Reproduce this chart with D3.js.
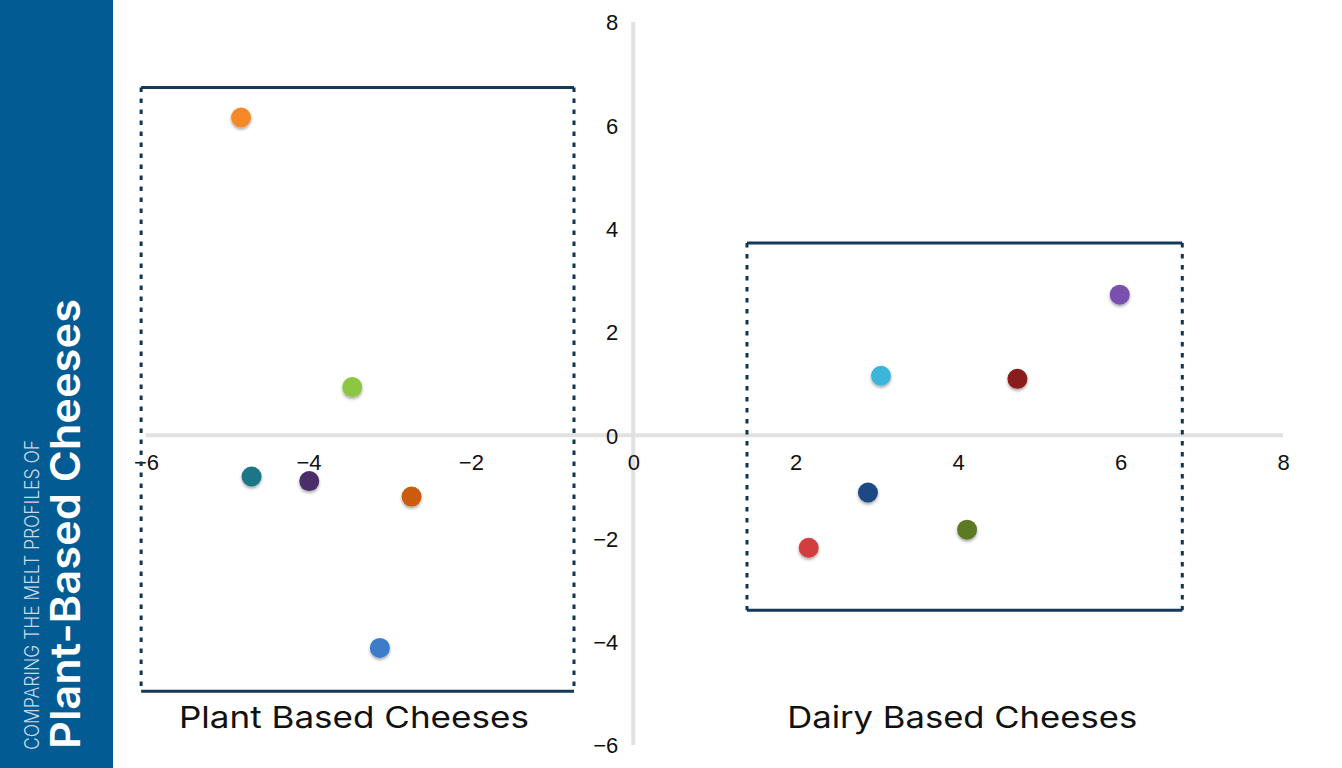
<!DOCTYPE html>
<html>
<head>
<meta charset="utf-8">
<script src="https://cdn.jsdelivr.net/npm/d3@7"></script>
<style>
  html, body { margin: 0; padding: 0; background: #fff; }
  svg { display: block; }
</style>
</head>
<body>
<svg id="chart"></svg>
<script>
// cheese positions
const plantCheeses = [
  { x: -4.83, y: 6.15, color: '#f5892a' },
  { x: -3.46, y: 0.93, color: '#8dc63f' },
  { x: -4.70, y: -0.80, color: '#1b7688' },
  { x: -3.99, y: -0.89, color: '#4a2f6a' },
  { x: -2.73, y: -1.19, color: '#cc5b0c' },
  { x: -3.12, y: -4.12, color: '#3c7bc8' }
];

const dairyCheeses = [
  { x: 3.05, y: 1.15, color: '#3bb5da' },
  { x: 4.73, y: 1.09, color: '#8b1b1c' },
  { x: 5.99, y: 2.72, color: '#7a4fae' },
  { x: 2.89, y: -1.11, color: '#1b4a84' },
  { x: 4.11, y: -1.83, color: '#5b7a28' },
  { x: 2.16, y: -2.18, color: '#d43d3d' }
];

// group boxes in data units
const groupBoxes = [
  { name: 'Plant Based Cheeses', x0: -6.06, x1: -0.73, y0: -4.96, y1: 6.73, labelX: -3.44 },
  { name: 'Dairy Based Cheeses', x0: 1.40, x1: 6.76, y0: -3.39, y1: 3.72, labelX: 4.05 }
];

const xTicks = [-6, -4, -2, 0, 2, 4, 6, 8];
const yTicks = [-6, -4, -2, 0, 2, 4, 6, 8];

const width = 1342;
const height = 768;

const svg = d3.select('#chart')
  .attr('width', width)
  .attr('height', height)
  .attr('viewBox', [0, 0, width, height]);

const defs = svg.append('defs');
const shadow = defs.append('filter')
  .attr('id', 'dotShadow')
  .attr('x', '-50%').attr('y', '-50%')
  .attr('width', '200%').attr('height', '200%');
shadow.append('feDropShadow')
  .attr('dx', 0).attr('dy', 2)
  .attr('stdDeviation', 1.6)
  .attr('flood-color', '#000')
  .attr('flood-opacity', 0.35);

const x = d3.scaleLinear().domain([-6, 8]).range([146, 1283]);
const y = d3.scaleLinear().domain([-6, 8]).range([745, 22]);

// axis lines first, labels on top
svg.append('line')
  .attr('x1', x(-6)).attr('x2', x(8))
  .attr('y1', y(0)).attr('y2', y(0))
  .attr('stroke', '#e1e1e1')
  .attr('stroke-width', 4);

svg.append('line')
  .attr('x1', x(0)).attr('x2', x(0))
  .attr('y1', y(8)).attr('y2', y(-6))
  .attr('stroke', '#e1e1e1')
  .attr('stroke-width', 4);

const xAxis = d3.axisBottom(x)
  .tickValues(xTicks)
  .tickSize(0)
  .tickPadding(20)
  .tickFormat(d3.format('d'));

const yAxis = d3.axisLeft(y)
  .tickValues(yTicks)
  .tickSize(0)
  .tickPadding(15)
  .tickFormat(d3.format('d'));

const gy = svg.append('g')
  .attr('transform', `translate(${x(0)},0)`)
  .call(yAxis);

const gx = svg.append('g')
  .attr('transform', `translate(0,${y(0)})`)
  .call(xAxis);

[gx, gy].forEach(g => {
  g.attr('font-size', null).attr('font-family', null);
  g.select('.domain').remove();
  g.selectAll('.tick text')
    .attr('fill', '#111')
    .style('font-family', '"Liberation Sans", Arial, sans-serif')
    .style('font-size', '22px');
});
gy.selectAll('.tick text').attr('dy', '0.36em');
gx.selectAll('.tick text').attr('dy', '0.68em');

// side banner
svg.append('rect')
  .attr('x', 0).attr('y', 0)
  .attr('width', 113).attr('height', height)
  .attr('fill', '#035b93');

svg.append('text')
  .attr('transform', 'translate(39,750) rotate(-90)')
  .attr('fill', '#c9d8e6')
  .attr('font-family', 'Inter, "Open Sans", sans-serif')
  .attr('font-weight', 300)
  .style('font-size', '19.5px')
  .attr('textLength', 310)
  .attr('lengthAdjust', 'spacingAndGlyphs')
  .text('COMPARING THE MELT PROFILES OF');

svg.append('text')
  .attr('transform', 'translate(80,749) rotate(-90)')
  .attr('fill', '#fff')
  .attr('font-family', 'Inter, "Open Sans", sans-serif')
  .attr('font-weight', 600)
  .style('font-size', '41px')
  .attr('textLength', 450)
  .attr('lengthAdjust', 'spacingAndGlyphs')
  .text('Plant-Based Cheeses');

// group boxes: solid top and bottom, dotted sides
const boxes = svg.append('g')
  .selectAll('g')
  .data(groupBoxes)
  .join('g');

boxes.append('line')
  .attr('x1', d => x(d.x0)).attr('x2', d => x(d.x1))
  .attr('y1', d => y(d.y1)).attr('y2', d => y(d.y1))
  .attr('stroke', '#12395a').attr('stroke-width', 3);

boxes.append('line')
  .attr('x1', d => x(d.x0)).attr('x2', d => x(d.x1))
  .attr('y1', d => y(d.y0)).attr('y2', d => y(d.y0))
  .attr('stroke', '#12395a').attr('stroke-width', 3);

boxes.selectAll('line.side')
  .data(d => [{ xv: d.x0, d }, { xv: d.x1, d }])
  .join('line')
  .attr('class', 'side')
  .attr('x1', s => x(s.xv)).attr('x2', s => x(s.xv))
  .attr('y1', s => y(s.d.y1)).attr('y2', s => y(s.d.y0))
  .attr('stroke', '#0d3655')
  .attr('stroke-width', 3)
  .attr('stroke-dasharray', '4.5,6.5');

boxes.append('text')
  .attr('x', d => x(d.labelX))
  .attr('y', 728)
  .attr('text-anchor', 'middle')
  .attr('fill', '#111')
  .attr('font-family', 'Inter, "Open Sans", sans-serif')
  .style('font-size', '30px')
  .attr('textLength', 350)
  .attr('lengthAdjust', 'spacingAndGlyphs')
  .text(d => d.name);

// cheese dots
svg.append('g')
  .selectAll('circle')
  .data(plantCheeses.concat(dairyCheeses))
  .join('circle')
  .attr('cx', d => x(d.x))
  .attr('cy', d => y(d.y))
  .attr('r', 10)
  .attr('fill', d => d.color)
  .attr('filter', 'url(#dotShadow)');
</script>
</body>
</html>
